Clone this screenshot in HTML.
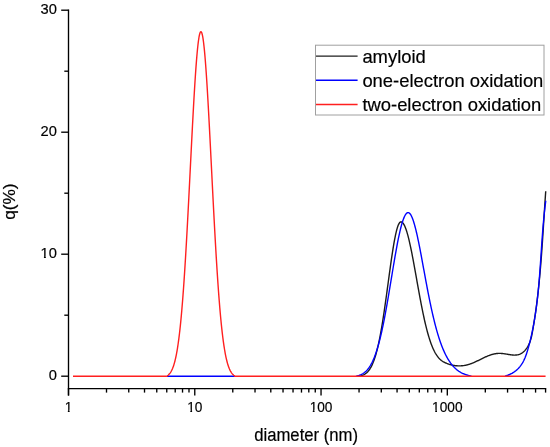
<!DOCTYPE html>
<html><head><meta charset="utf-8"><style>
html,body{margin:0;padding:0;background:#fff;}
svg{display:block;font-family:'Liberation Sans', Arial, sans-serif;}
text{stroke:#000;stroke-width:0.18px;}
</style></head><body>
<svg width="550" height="447" viewBox="0 0 550 447">
<rect width="550" height="447" fill="#fff"/>
<line x1="68.50" y1="9.52" x2="68.50" y2="395.60" stroke="#000" stroke-width="1.35"/>
<line x1="67.83" y1="388.60" x2="546.24" y2="388.60" stroke="#000" stroke-width="1.35"/>
<line x1="61.20" y1="376.20" x2="68.50" y2="376.20" stroke="#000" stroke-width="1.35"/>
<line x1="61.20" y1="254.20" x2="68.50" y2="254.20" stroke="#000" stroke-width="1.35"/>
<line x1="61.20" y1="132.20" x2="68.50" y2="132.20" stroke="#000" stroke-width="1.35"/>
<line x1="61.20" y1="10.20" x2="68.50" y2="10.20" stroke="#000" stroke-width="1.35"/>
<line x1="64.30" y1="315.20" x2="68.50" y2="315.20" stroke="#000" stroke-width="1.35"/>
<line x1="64.30" y1="193.20" x2="68.50" y2="193.20" stroke="#000" stroke-width="1.35"/>
<line x1="64.30" y1="71.20" x2="68.50" y2="71.20" stroke="#000" stroke-width="1.35"/>
<line x1="68.50" y1="388.60" x2="68.50" y2="395.60" stroke="#000" stroke-width="1.35"/>
<line x1="106.51" y1="388.60" x2="106.51" y2="392.60" stroke="#000" stroke-width="1.35"/>
<line x1="128.75" y1="388.60" x2="128.75" y2="392.60" stroke="#000" stroke-width="1.35"/>
<line x1="144.52" y1="388.60" x2="144.52" y2="392.60" stroke="#000" stroke-width="1.35"/>
<line x1="156.76" y1="388.60" x2="156.76" y2="392.60" stroke="#000" stroke-width="1.35"/>
<line x1="166.76" y1="388.60" x2="166.76" y2="392.60" stroke="#000" stroke-width="1.35"/>
<line x1="175.21" y1="388.60" x2="175.21" y2="392.60" stroke="#000" stroke-width="1.35"/>
<line x1="182.53" y1="388.60" x2="182.53" y2="392.60" stroke="#000" stroke-width="1.35"/>
<line x1="188.99" y1="388.60" x2="188.99" y2="392.60" stroke="#000" stroke-width="1.35"/>
<line x1="194.77" y1="388.60" x2="194.77" y2="395.60" stroke="#000" stroke-width="1.35"/>
<line x1="232.78" y1="388.60" x2="232.78" y2="392.60" stroke="#000" stroke-width="1.35"/>
<line x1="255.02" y1="388.60" x2="255.02" y2="392.60" stroke="#000" stroke-width="1.35"/>
<line x1="270.79" y1="388.60" x2="270.79" y2="392.60" stroke="#000" stroke-width="1.35"/>
<line x1="283.03" y1="388.60" x2="283.03" y2="392.60" stroke="#000" stroke-width="1.35"/>
<line x1="293.03" y1="388.60" x2="293.03" y2="392.60" stroke="#000" stroke-width="1.35"/>
<line x1="301.48" y1="388.60" x2="301.48" y2="392.60" stroke="#000" stroke-width="1.35"/>
<line x1="308.80" y1="388.60" x2="308.80" y2="392.60" stroke="#000" stroke-width="1.35"/>
<line x1="315.26" y1="388.60" x2="315.26" y2="392.60" stroke="#000" stroke-width="1.35"/>
<line x1="321.04" y1="388.60" x2="321.04" y2="395.60" stroke="#000" stroke-width="1.35"/>
<line x1="359.05" y1="388.60" x2="359.05" y2="392.60" stroke="#000" stroke-width="1.35"/>
<line x1="381.29" y1="388.60" x2="381.29" y2="392.60" stroke="#000" stroke-width="1.35"/>
<line x1="397.06" y1="388.60" x2="397.06" y2="392.60" stroke="#000" stroke-width="1.35"/>
<line x1="409.30" y1="388.60" x2="409.30" y2="392.60" stroke="#000" stroke-width="1.35"/>
<line x1="419.30" y1="388.60" x2="419.30" y2="392.60" stroke="#000" stroke-width="1.35"/>
<line x1="427.75" y1="388.60" x2="427.75" y2="392.60" stroke="#000" stroke-width="1.35"/>
<line x1="435.07" y1="388.60" x2="435.07" y2="392.60" stroke="#000" stroke-width="1.35"/>
<line x1="441.53" y1="388.60" x2="441.53" y2="392.60" stroke="#000" stroke-width="1.35"/>
<line x1="447.31" y1="388.60" x2="447.31" y2="395.60" stroke="#000" stroke-width="1.35"/>
<line x1="485.32" y1="388.60" x2="485.32" y2="392.60" stroke="#000" stroke-width="1.35"/>
<line x1="507.56" y1="388.60" x2="507.56" y2="392.60" stroke="#000" stroke-width="1.35"/>
<line x1="523.33" y1="388.60" x2="523.33" y2="392.60" stroke="#000" stroke-width="1.35"/>
<line x1="535.57" y1="388.60" x2="535.57" y2="392.60" stroke="#000" stroke-width="1.35"/>
<line x1="545.57" y1="388.60" x2="545.57" y2="392.60" stroke="#000" stroke-width="1.35"/>
<g transform="translate(56.9,380.20)"><text text-anchor="end" font-size="14.7">0</text></g>
<g transform="translate(56.9,258.20)"><text text-anchor="end" font-size="14.7">10</text><rect x="-16.49" y="-2.44" width="3.52" height="3.44" fill="#fff"/><rect x="-11.04" y="-2.44" width="3.12" height="3.44" fill="#fff"/></g>
<g transform="translate(56.9,136.20)"><text text-anchor="end" font-size="14.7">20</text></g>
<g transform="translate(56.9,14.20)"><text text-anchor="end" font-size="14.7">30</text></g>
<g transform="translate(68.50,412.2) scale(1,1.09)"><text text-anchor="middle" font-size="13.7">1</text><rect x="-3.94" y="-2.27" width="3.28" height="3.27" fill="#fff"/><rect x="1.14" y="-2.27" width="2.91" height="3.27" fill="#fff"/></g>
<g transform="translate(194.77,412.2) scale(1,1.09)"><text text-anchor="middle" font-size="13.7">10</text><rect x="-7.75" y="-2.27" width="3.28" height="3.27" fill="#fff"/><rect x="-2.67" y="-2.27" width="2.91" height="3.27" fill="#fff"/></g>
<g transform="translate(321.04,412.2) scale(1,1.09)"><text text-anchor="middle" font-size="13.7">100</text><rect x="-11.56" y="-2.27" width="3.28" height="3.27" fill="#fff"/><rect x="-6.48" y="-2.27" width="2.91" height="3.27" fill="#fff"/></g>
<g transform="translate(447.31,412.2) scale(1,1.09)"><text text-anchor="middle" font-size="13.7">1000</text><rect x="-15.37" y="-2.27" width="3.28" height="3.27" fill="#fff"/><rect x="-10.29" y="-2.27" width="2.91" height="3.27" fill="#fff"/></g>
<text transform="translate(306.1,441.3) scale(1,1.05)" text-anchor="middle" font-size="16.7">diameter (nm)</text>
<text transform="translate(15.2,201.6) rotate(-90) scale(1.04,1)" text-anchor="middle" font-size="16.6">q(%)</text>
<path d="M359.50,376.20 L360.00,376.13 L360.50,376.00 L361.00,375.86 L361.50,375.70 L362.00,375.53 L362.50,375.33 L363.00,375.12 L363.50,374.89 L364.00,374.63 L364.50,374.34 L365.00,374.03 L365.50,373.69 L366.00,373.31 L366.50,372.90 L367.00,372.44 L367.50,371.95 L368.00,371.41 L368.50,370.82 L369.00,370.19 L369.50,369.49 L370.00,368.74 L370.50,367.93 L371.00,367.06 L371.50,366.11 L372.00,365.10 L372.50,364.00 L373.00,362.83 L373.50,361.58 L374.00,360.24 L374.50,358.82 L375.00,357.30 L375.50,355.68 L376.00,353.97 L376.50,352.16 L377.00,350.25 L377.50,348.23 L378.00,346.11 L378.50,343.88 L379.00,341.54 L379.50,339.10 L380.00,336.55 L380.50,333.90 L381.00,331.14 L381.50,328.28 L382.00,325.32 L382.50,322.26 L383.00,319.11 L383.50,315.88 L384.00,312.56 L384.50,309.17 L385.00,305.71 L385.50,302.19 L386.00,298.61 L386.50,294.99 L387.00,291.34 L387.50,287.66 L388.00,283.97 L388.50,280.27 L389.00,276.58 L389.50,272.92 L390.00,269.28 L390.50,265.69 L391.00,262.16 L391.50,258.70 L392.00,255.33 L392.50,252.05 L393.00,248.88 L393.50,245.83 L394.00,242.92 L394.50,240.16 L395.00,237.55 L395.50,235.11 L396.00,232.86 L396.50,230.79 L397.00,228.92 L397.50,227.26 L398.00,225.81 L398.50,224.58 L399.00,223.58 L399.50,222.81 L400.00,222.27 L400.50,221.97 L401.00,221.89 L401.50,221.97 L402.00,222.20 L402.50,222.58 L403.00,223.11 L403.50,223.78 L404.00,224.60 L404.50,225.56 L405.00,226.66 L405.50,227.89 L406.00,229.25 L406.50,230.74 L407.00,232.35 L407.50,234.08 L408.00,235.92 L408.50,237.87 L409.00,239.91 L409.50,242.06 L410.00,244.29 L410.50,246.60 L411.00,248.99 L411.50,251.45 L412.00,253.98 L412.50,256.56 L413.00,259.19 L413.50,261.87 L414.00,264.58 L414.50,267.32 L415.00,270.09 L415.50,272.88 L416.00,275.67 L416.50,278.48 L417.00,281.28 L417.50,284.08 L418.00,286.86 L418.50,289.63 L419.00,292.37 L419.50,295.09 L420.00,297.78 L420.50,300.44 L421.00,303.06 L421.50,305.64 L422.00,308.17 L422.50,310.65 L423.00,313.08 L423.50,315.46 L424.00,317.77 L424.50,320.03 L425.00,322.22 L425.50,324.35 L426.00,326.42 L426.50,328.42 L427.00,330.35 L427.50,332.22 L428.00,334.02 L428.50,335.75 L429.00,337.42 L429.50,339.02 L430.00,340.55 L430.50,342.02 L431.00,343.43 L431.50,344.77 L432.00,346.05 L432.50,347.26 L433.00,348.42 L433.50,349.52 L434.00,350.56 L434.50,351.55 L435.00,352.48 L435.50,353.36 L436.00,354.19 L436.50,354.97 L437.00,355.71 L437.50,356.40 L438.00,357.05 L438.50,357.65 L439.00,358.22 L439.50,358.75 L440.00,359.25 L440.50,359.71 L441.00,360.14 L441.50,360.54 L442.00,360.91 L442.50,361.25 L443.00,361.57 L443.50,361.87 L444.00,362.14 L444.04,362.03 L444.50,362.29 L444.96,362.53 L445.43,362.77 L445.90,363.00 L446.38,363.22 L446.86,363.43 L447.35,363.63 L447.84,363.82 L448.33,364.01 L448.83,364.19 L449.33,364.35 L449.83,364.51 L450.34,364.66 L450.85,364.80 L451.36,364.94 L451.88,365.06 L452.40,365.17 L452.92,365.28 L453.44,365.38 L453.96,365.47 L454.49,365.55 L455.02,365.62 L455.55,365.68 L456.08,365.74 L456.61,365.78 L457.14,365.82 L457.67,365.85 L458.21,365.87 L458.74,365.88 L459.28,365.88 L459.81,365.87 L460.35,365.86 L460.88,365.83 L461.42,365.80 L461.95,365.76 L462.48,365.71 L463.02,365.65 L463.55,365.58 L464.08,365.51 L464.60,365.42 L465.13,365.33 L465.66,365.23 L466.18,365.12 L466.70,365.00 L467.22,364.87 L467.74,364.73 L468.25,364.59 L468.76,364.44 L469.27,364.28 L469.78,364.11 L470.29,363.94 L470.79,363.76 L471.30,363.57 L471.80,363.38 L472.30,363.18 L472.80,362.98 L473.29,362.77 L473.79,362.56 L474.28,362.35 L474.78,362.13 L475.27,361.91 L475.76,361.68 L476.25,361.45 L476.74,361.22 L477.23,360.98 L477.72,360.75 L478.21,360.51 L478.69,360.27 L479.18,360.03 L479.67,359.79 L480.15,359.55 L480.64,359.31 L481.12,359.07 L481.61,358.83 L482.10,358.59 L482.58,358.35 L483.07,358.12 L483.56,357.88 L484.04,357.65 L484.53,357.42 L485.02,357.20 L485.51,356.97 L486.00,356.75 L486.49,356.54 L486.98,356.33 L487.47,356.12 L487.96,355.92 L488.45,355.72 L488.95,355.53 L489.45,355.35 L489.94,355.17 L490.44,354.99 L490.94,354.83 L491.44,354.67 L491.95,354.52 L492.45,354.37 L492.96,354.24 L493.47,354.11 L493.98,353.99 L494.49,353.88 L495.01,353.78 L495.52,353.69 L496.04,353.61 L496.56,353.54 L497.09,353.48 L497.61,353.43 L498.14,353.40 L498.67,353.37 L499.21,353.36 L499.75,353.36 L500.29,353.37 L500.83,353.39 L501.37,353.43 L501.92,353.47 L502.47,353.53 L503.02,353.59 L503.58,353.66 L504.13,353.74 L504.68,353.82 L505.24,353.90 L505.80,353.99 L506.35,354.09 L506.91,354.18 L507.46,354.27 L508.02,354.37 L508.57,354.46 L509.12,354.55 L509.68,354.64 L510.22,354.72 L510.77,354.79 L511.32,354.86 L511.86,354.93 L512.40,354.98 L512.94,355.02 L513.47,355.06 L514.00,355.08 L514.52,355.09 L515.04,355.09 L515.56,355.07 L516.07,355.04 L516.58,354.99 L517.08,354.92 L517.58,354.83 L518.07,354.73 L518.56,354.61 L519.03,354.46 L519.51,354.29 L519.97,354.10 L520.43,353.89 L520.88,353.66 L521.32,353.40 L521.76,353.13 L522.19,352.84 L522.61,352.54 L523.02,352.21 L523.42,351.87 L523.82,351.52 L524.21,351.15 L524.59,350.77 L524.96,350.37 L525.32,349.96 L525.67,349.54 L526.01,349.11 L526.35,348.67 L526.67,348.23 L526.98,347.77 L527.29,347.31 L527.58,346.84 L527.87,346.36 L528.14,345.88 L528.40,345.39 L528.65,344.91 L528.89,344.41 L529.12,343.92 L529.34,343.42 L529.55,342.92 L529.75,342.42 L529.95,341.92 L530.13,341.41 L530.30,340.90 L530.47,340.39 L530.63,339.88 L530.78,339.37 L530.93,338.85 L531.07,338.33 L531.20,337.81 L531.33,337.29 L531.45,336.77 L531.57,336.25 L531.69,335.73 L531.80,335.20 L531.90,334.68 L532.01,334.15 L532.11,333.63 L532.21,333.10 L532.30,332.57 L532.40,332.04 L532.49,331.51 L532.58,330.99 L532.68,330.46 L532.77,329.93 L532.86,329.40 L532.95,328.87 L533.04,328.34 L533.13,327.81 L533.22,327.29 L533.31,326.76 L533.40,326.23 L533.48,325.70 L533.57,325.17 L533.66,324.64 L533.74,324.11 L533.83,323.58 L533.91,323.06 L534.00,322.53 L534.08,322.00 L534.17,321.47 L534.25,320.94 L534.33,320.41 L534.42,319.88 L534.50,319.35 L534.58,318.82 L534.66,318.29 L534.74,317.76 L534.82,317.24 L534.90,316.71 L534.98,316.18 L535.06,315.65 L535.14,315.12 L535.21,314.59 L535.29,314.06 L535.37,313.53 L535.44,313.00 L535.52,312.47 L535.60,311.94 L535.67,311.41 L535.75,310.88 L535.82,310.35 L535.89,309.82 L535.97,309.29 L536.04,308.76 L536.11,308.23 L536.18,307.70 L536.25,307.17 L536.33,306.64 L536.40,306.11 L536.47,305.58 L536.54,305.05 L536.61,304.52 L536.67,303.99 L536.74,303.45 L536.81,302.92 L536.88,302.39 L536.95,301.86 L537.01,301.33 L537.08,300.80 L537.14,300.27 L537.21,299.74 L537.28,299.21 L537.34,298.68 L537.40,298.14 L537.47,297.61 L537.53,297.08 L537.59,296.55 L537.66,296.02 L537.72,295.49 L537.78,294.95 L537.84,294.42 L537.90,293.89 L537.96,293.36 L538.02,292.83 L538.08,292.30 L538.14,291.76 L538.20,291.23 L538.26,290.70 L538.32,290.17 L538.38,289.63 L538.44,289.10 L538.49,288.57 L538.55,288.04 L538.61,287.50 L538.66,286.97 L538.72,286.44 L538.77,285.91 L538.83,285.37 L538.88,284.84 L538.94,284.31 L538.99,283.78 L539.05,283.24 L539.10,282.71 L539.15,282.18 L539.20,281.64 L539.26,281.11 L539.31,280.58 L539.36,280.04 L539.41,279.51 L539.46,278.98 L539.51,278.44 L539.57,277.91 L539.62,277.38 L539.67,276.84 L539.72,276.31 L539.76,275.78 L539.81,275.24 L539.86,274.71 L539.91,274.18 L539.96,273.64 L540.01,273.11 L540.05,272.57 L540.10,272.04 L540.15,271.51 L540.20,270.97 L540.24,270.44 L540.29,269.90 L540.33,269.37 L540.38,268.84 L540.43,268.30 L540.47,267.77 L540.52,267.23 L540.56,266.70 L540.61,266.17 L540.65,265.63 L540.69,265.10 L540.74,264.56 L540.78,264.03 L540.82,263.49 L540.87,262.96 L540.91,262.43 L540.95,261.89 L541.00,261.36 L541.04,260.82 L541.08,260.29 L541.12,259.75 L541.16,259.22 L541.20,258.68 L541.25,258.15 L541.29,257.61 L541.33,257.08 L541.37,256.55 L541.41,256.01 L541.45,255.48 L541.49,254.94 L541.53,254.41 L541.57,253.87 L541.61,253.34 L541.65,252.80 L541.69,252.27 L541.73,251.73 L541.76,251.20 L541.80,250.66 L541.84,250.13 L541.88,249.59 L541.92,249.06 L541.96,248.52 L541.99,247.99 L542.03,247.45 L542.07,246.92 L542.11,246.38 L542.14,245.85 L542.18,245.31 L542.22,244.78 L542.25,244.24 L542.29,243.71 L542.33,243.17 L542.36,242.64 L542.40,242.10 L542.44,241.57 L542.47,241.03 L542.51,240.50 L542.54,239.96 L542.58,239.43 L542.62,238.89 L542.65,238.36 L542.69,237.82 L542.72,237.29 L542.76,236.75 L542.79,236.22 L542.83,235.68 L542.86,235.15 L542.90,234.61 L542.93,234.07 L542.97,233.54 L543.00,233.00 L543.04,232.47 L543.07,231.93 L543.11,231.40 L543.14,230.86 L543.18,230.33 L543.21,229.79 L543.24,229.26 L543.28,228.72 L543.31,228.19 L543.35,227.65 L543.38,227.12 L543.42,226.58 L543.45,226.05 L543.48,225.51 L543.52,224.98 L543.55,224.44 L543.59,223.91 L543.62,223.37 L543.65,222.84 L543.69,222.30 L543.72,221.77 L543.76,221.23 L543.79,220.70 L543.82,220.16 L543.86,219.63 L543.89,219.09 L543.92,218.56 L543.96,218.02 L543.99,217.49 L544.03,216.95 L544.06,216.42 L544.09,215.88 L544.13,215.35 L544.16,214.81 L544.20,214.28 L544.23,213.74 L544.26,213.21 L544.30,212.67 L544.33,212.14 L544.37,211.60 L544.40,211.07 L544.43,210.53 L544.47,210.00 L544.50,209.47 L544.54,208.93 L544.57,208.40 L544.61,207.86 L544.64,207.33 L544.68,206.79 L544.71,206.26 L544.75,205.72 L544.78,205.19 L544.82,204.65 L544.85,204.12 L544.89,203.59 L544.92,203.05 L544.96,202.52 L544.99,201.98 L545.03,201.45 L545.06,200.91 L545.10,200.38 L545.13,199.85 L545.17,199.31 L545.21,198.78 L545.24,198.24 L545.28,197.71 L545.31,197.18 L545.35,196.64 L545.39,196.11 L545.42,195.57 L545.46,195.04 L545.50,194.51 L545.53,193.97 L545.57,193.44 L545.61,192.91 L545.65,192.37 L545.68,191.84 L545.72,191.31" fill="none" stroke="#1a1a1a" stroke-width="1.4" stroke-linejoin="round"/>
<path d="M356.00,376.20 L356.50,376.09 L357.00,375.98 L357.50,375.85 L358.00,375.71 L358.50,375.56 L359.00,375.40 L359.50,375.22 L360.00,375.03 L360.50,374.82 L361.00,374.60 L361.50,374.35 L362.00,374.09 L362.50,373.81 L363.00,373.51 L363.50,373.18 L364.00,372.83 L364.50,372.45 L365.00,372.05 L365.50,371.61 L366.00,371.15 L366.50,370.65 L367.00,370.12 L367.50,369.56 L368.00,368.96 L368.50,368.31 L369.00,367.63 L369.50,366.90 L370.00,366.13 L370.50,365.32 L371.00,364.45 L371.50,363.53 L372.00,362.57 L372.50,361.55 L373.00,360.47 L373.50,359.34 L374.00,358.15 L374.50,356.90 L375.00,355.58 L375.50,354.21 L376.00,352.77 L376.50,351.26 L377.00,349.69 L377.50,348.06 L378.00,346.35 L378.50,344.57 L379.00,342.73 L379.50,340.82 L380.00,338.84 L380.50,336.79 L381.00,334.67 L381.50,332.48 L382.00,330.23 L382.50,327.91 L383.00,325.52 L383.50,323.07 L384.00,320.56 L384.50,318.00 L385.00,315.37 L385.50,312.69 L386.00,309.96 L386.50,307.18 L387.00,304.35 L387.50,301.48 L388.00,298.58 L388.50,295.64 L389.00,292.67 L389.50,289.68 L390.00,286.67 L390.50,283.65 L391.00,280.61 L391.50,277.58 L392.00,274.54 L392.50,271.51 L393.00,268.50 L393.50,265.50 L394.00,262.53 L394.50,259.59 L395.00,256.69 L395.50,253.84 L396.00,251.03 L396.50,248.28 L397.00,245.59 L397.50,242.97 L398.00,240.43 L398.50,237.96 L399.00,235.59 L399.50,233.30 L400.00,231.11 L400.50,229.02 L401.00,227.04 L401.50,225.17 L402.00,223.41 L402.50,221.77 L403.00,220.26 L403.50,218.87 L404.00,217.62 L404.50,216.49 L405.00,215.50 L405.50,214.64 L406.00,213.93 L406.50,213.36 L407.00,212.95 L407.50,212.69 L408.00,212.60 L408.50,212.65 L409.00,212.87 L409.50,213.23 L410.00,213.75 L410.50,214.42 L411.00,215.23 L411.50,216.18 L412.00,217.27 L412.50,218.50 L413.00,219.85 L413.50,221.33 L414.00,222.92 L414.50,224.63 L415.00,226.45 L415.50,228.37 L416.00,230.39 L416.50,232.50 L417.00,234.69 L417.50,236.95 L418.00,239.29 L418.50,241.70 L419.00,244.16 L419.50,246.68 L420.00,249.24 L420.50,251.85 L421.00,254.49 L421.50,257.16 L422.00,259.85 L422.50,262.56 L423.00,265.28 L423.50,268.01 L424.00,270.74 L424.50,273.46 L425.00,276.18 L425.50,278.88 L426.00,281.57 L426.50,284.24 L427.00,286.88 L427.50,289.50 L428.00,292.08 L428.50,294.63 L429.00,297.15 L429.50,299.63 L430.00,302.07 L430.50,304.47 L431.00,306.82 L431.50,309.13 L432.00,311.39 L432.50,313.61 L433.00,315.78 L433.50,317.89 L434.00,319.96 L434.50,321.99 L435.00,323.96 L435.50,325.88 L436.00,327.75 L436.50,329.57 L437.00,331.34 L437.50,333.07 L438.00,334.74 L438.50,336.37 L439.00,337.95 L439.50,339.48 L440.00,340.96 L440.50,342.40 L441.00,343.80 L441.50,345.15 L442.00,346.46 L442.50,347.73 L443.00,348.95 L443.50,350.14 L444.00,351.28 L444.50,352.39 L445.00,353.45 L445.50,354.48 L446.00,355.48 L446.50,356.44 L447.00,357.36 L447.50,358.25 L448.00,359.11 L448.50,359.93 L449.00,360.73 L449.50,361.49 L450.00,362.22 L450.50,362.93 L451.00,363.60 L451.50,364.25 L452.00,364.88 L452.50,365.47 L453.00,366.05 L453.50,366.60 L454.00,367.12 L454.50,367.63 L455.00,368.11 L455.50,368.58 L456.00,369.02 L456.50,369.45 L457.00,369.85 L457.50,370.24 L458.00,370.61 L458.50,370.97 L459.00,371.31 L459.50,371.63 L460.00,371.94 L460.50,372.24 L461.00,372.52 L461.50,372.78 L462.00,373.04 L462.50,373.28 L463.00,373.52 L463.50,373.74 L464.00,373.95 L464.50,374.15 L465.00,374.34 L465.50,374.53 L466.00,374.70 L466.50,374.87 L467.00,375.03 L467.50,375.18 L468.00,375.33 L468.50,375.47 L469.00,375.60 L469.50,375.73 L470.00,375.86 L470.50,375.98 L471.00,376.09 L471.50,376.20" fill="none" stroke="#0000ff" stroke-width="1.4" stroke-linejoin="round"/>
<path d="M505.07,376.20 L505.74,375.89 L506.41,375.70 L507.06,375.48 L507.70,375.26 L508.34,375.02 L508.96,374.77 L509.57,374.51 L510.17,374.24 L510.76,373.95 L511.34,373.65 L511.91,373.35 L512.46,373.03 L513.01,372.70 L513.55,372.36 L514.07,372.01 L514.59,371.65 L515.09,371.28 L515.59,370.90 L516.07,370.51 L516.54,370.11 L517.00,369.70 L517.46,369.28 L517.90,368.86 L518.33,368.42 L518.74,367.98 L519.15,367.53 L519.55,367.07 L519.94,366.60 L520.31,366.12 L520.68,365.64 L521.03,365.15 L521.38,364.65 L521.71,364.15 L522.04,363.64 L522.36,363.12 L522.66,362.60 L522.96,362.07 L523.25,361.54 L523.53,361.00 L523.81,360.45 L524.07,359.90 L524.33,359.35 L524.58,358.79 L524.83,358.22 L525.07,357.66 L525.30,357.08 L525.52,356.51 L525.74,355.93 L525.96,355.35 L526.17,354.76 L526.37,354.17 L526.57,353.58 L526.77,352.99 L526.96,352.39 L527.15,351.80 L527.33,351.20 L527.51,350.60 L527.69,350.00 L527.87,349.39 L528.04,348.79 L528.21,348.18 L528.38,347.58 L528.55,346.97 L528.71,346.37 L528.87,345.76 L529.04,345.16 L529.20,344.55 L529.36,343.95 L529.51,343.34 L529.67,342.73 L529.82,342.13 L529.98,341.52 L530.13,340.91 L530.28,340.30 L530.42,339.70 L530.57,339.09 L530.72,338.48 L530.86,337.87 L531.00,337.26 L531.14,336.65 L531.28,336.04 L531.42,335.44 L531.55,334.83 L531.69,334.22 L531.82,333.61 L531.95,333.00 L532.08,332.39 L532.21,331.78 L532.34,331.17 L532.47,330.56 L532.59,329.94 L532.72,329.33 L532.84,328.72 L532.96,328.11 L533.08,327.50 L533.20,326.89 L533.31,326.27 L533.43,325.66 L533.54,325.05 L533.66,324.44 L533.77,323.82 L533.88,323.21 L533.99,322.60 L534.10,321.99 L534.21,321.37 L534.31,320.76 L534.42,320.14 L534.52,319.53 L534.62,318.92 L534.72,318.30 L534.82,317.69 L534.92,317.07 L535.02,316.46 L535.12,315.84 L535.21,315.23 L535.31,314.61 L535.40,314.00 L535.49,313.38 L535.59,312.77 L535.68,312.15 L535.77,311.54 L535.85,310.92 L535.94,310.30 L536.03,309.69 L536.11,309.07 L536.20,308.45 L536.28,307.84 L536.36,307.22 L536.45,306.60 L536.53,305.99 L536.61,305.37 L536.68,304.75 L536.76,304.13 L536.84,303.52 L536.92,302.90 L536.99,302.28 L537.07,301.66 L537.14,301.05 L537.21,300.43 L537.28,299.81 L537.36,299.19 L537.43,298.57 L537.50,297.95 L537.56,297.33 L537.63,296.72 L537.70,296.10 L537.77,295.48 L537.83,294.86 L537.90,294.24 L537.96,293.62 L538.02,293.00 L538.09,292.38 L538.15,291.76 L538.21,291.14 L538.27,290.52 L538.33,289.90 L538.39,289.28 L538.45,288.66 L538.51,288.04 L538.57,287.42 L538.63,286.80 L538.68,286.18 L538.74,285.56 L538.79,284.94 L538.85,284.32 L538.90,283.70 L538.96,283.08 L539.01,282.46 L539.06,281.84 L539.12,281.22 L539.17,280.59 L539.22,279.97 L539.27,279.35 L539.32,278.73 L539.37,278.11 L539.42,277.49 L539.47,276.87 L539.52,276.25 L539.57,275.62 L539.61,275.00 L539.66,274.38 L539.71,273.76 L539.76,273.14 L539.80,272.52 L539.85,271.89 L539.90,271.27 L539.94,270.65 L539.99,270.03 L540.03,269.41 L540.08,268.78 L540.12,268.16 L540.17,267.54 L540.21,266.92 L540.25,266.30 L540.30,265.67 L540.34,265.05 L540.38,264.43 L540.43,263.81 L540.47,263.19 L540.51,262.56 L540.55,261.94 L540.60,261.32 L540.64,260.70 L540.68,260.07 L540.72,259.45 L540.77,258.83 L540.81,258.21 L540.85,257.58 L540.89,256.96 L540.93,256.34 L540.97,255.72 L541.02,255.10 L541.06,254.47 L541.10,253.85 L541.14,253.23 L541.18,252.61 L541.22,251.98 L541.26,251.36 L541.31,250.74 L541.35,250.12 L541.39,249.49 L541.43,248.87 L541.47,248.25 L541.51,247.63 L541.56,247.01 L541.60,246.38 L541.64,245.76 L541.68,245.14 L541.73,244.52 L541.77,243.89 L541.81,243.27 L541.85,242.65 L541.90,242.03 L541.94,241.41 L541.98,240.78 L542.03,240.16 L542.07,239.54 L542.12,238.92 L542.16,238.30 L542.21,237.68 L542.25,237.05 L542.30,236.43 L542.34,235.81 L542.39,235.19 L542.44,234.57 L542.48,233.95 L542.53,233.32 L542.58,232.70 L542.62,232.08 L542.67,231.46 L542.72,230.84 L542.77,230.22 L542.82,229.60 L542.87,228.98 L542.92,228.36 L542.97,227.73 L543.02,227.11 L543.07,226.49 L543.13,225.87 L543.18,225.25 L543.23,224.63 L543.28,224.01 L543.34,223.39 L543.39,222.77 L543.45,222.15 L543.50,221.53 L543.56,220.91 L543.62,220.29 L543.67,219.67 L543.73,219.05 L543.79,218.43 L543.85,217.81 L543.91,217.19 L543.97,216.57 L544.03,215.95 L544.09,215.33 L544.16,214.72 L544.22,214.10 L544.28,213.48 L544.35,212.86 L544.41,212.24 L544.48,211.62 L544.55,211.00 L544.61,210.38 L544.68,209.77 L544.75,209.15 L544.82,208.53 L544.89,207.91 L544.96,207.29 L545.03,206.68 L545.11,206.06 L545.18,205.44 L545.26,204.82 L545.33,204.21 L545.41,203.59 L545.49,202.97 L545.56,202.36 L545.64,201.74 L545.72,201.12 L545.60,201.10" fill="none" stroke="#0000ff" stroke-width="1.4" stroke-linejoin="round"/>
<line x1="166.95" y1="376.20" x2="234.85" y2="376.20" stroke="#0000ff" stroke-width="1.4"/>
<path d="M73.00,376.20 L166.65,376.20 L166.75,376.14 L167.00,375.99 L167.25,375.83 L167.50,375.66 L167.75,375.48 L168.00,375.28 L168.25,375.07 L168.50,374.85 L168.75,374.61 L169.00,374.36 L169.25,374.09 L169.50,373.80 L169.75,373.49 L170.00,373.17 L170.25,372.82 L170.50,372.45 L170.75,372.06 L171.00,371.65 L171.25,371.21 L171.50,370.75 L171.75,370.25 L172.00,369.73 L172.25,369.18 L172.50,368.60 L172.75,367.98 L173.00,367.33 L173.25,366.65 L173.50,365.93 L173.75,365.17 L174.00,364.37 L174.25,363.52 L174.50,362.64 L174.75,361.71 L175.00,360.73 L175.25,359.70 L175.50,358.63 L175.75,357.50 L176.00,356.32 L176.25,355.09 L176.50,353.79 L176.75,352.44 L177.00,351.03 L177.25,349.56 L177.50,348.02 L177.75,346.42 L178.00,344.76 L178.25,343.02 L178.50,341.21 L178.75,339.33 L179.00,337.38 L179.25,335.36 L179.50,333.25 L179.75,331.08 L180.00,328.82 L180.25,326.48 L180.50,324.06 L180.75,321.56 L181.00,318.98 L181.25,316.31 L181.50,313.56 L181.75,310.72 L182.00,307.80 L182.25,304.80 L182.50,301.70 L182.75,298.52 L183.00,295.25 L183.25,291.90 L183.50,288.46 L183.75,284.94 L184.00,281.33 L184.25,277.64 L184.50,273.87 L184.75,270.01 L185.00,266.07 L185.25,262.06 L185.50,257.97 L185.75,253.80 L186.00,249.56 L186.25,245.25 L186.50,240.87 L186.75,236.43 L187.00,231.92 L187.25,227.36 L187.50,222.74 L187.75,218.06 L188.00,213.34 L188.25,208.58 L188.50,203.77 L188.75,198.92 L189.00,194.05 L189.25,189.15 L189.50,184.22 L189.75,179.28 L190.00,174.32 L190.25,169.36 L190.50,164.40 L190.75,159.44 L191.00,154.49 L191.25,149.56 L191.50,144.64 L191.75,139.76 L192.00,134.91 L192.25,130.09 L192.50,125.33 L192.75,120.62 L193.00,115.96 L193.25,111.37 L193.50,106.85 L193.75,102.41 L194.00,98.05 L194.25,93.78 L194.50,89.61 L194.75,85.54 L195.00,81.57 L195.25,77.73 L195.50,74.00 L195.75,70.39 L196.00,66.92 L196.25,63.59 L196.50,60.39 L196.75,57.34 L197.00,54.45 L197.25,51.71 L197.50,49.13 L197.75,46.72 L198.00,44.47 L198.25,42.40 L198.50,40.50 L198.75,38.78 L199.00,37.24 L199.25,35.89 L199.50,34.72 L199.75,33.74 L200.00,32.95 L200.25,32.35 L200.50,31.95 L200.75,31.73 L201.00,31.72 L201.25,31.89 L201.50,32.26 L201.75,32.82 L202.00,33.57 L202.25,34.51 L202.50,35.64 L202.75,36.95 L203.00,38.46 L203.25,40.14 L203.50,42.00 L203.75,44.04 L204.00,46.25 L204.25,48.63 L204.50,51.18 L204.75,53.89 L205.00,56.75 L205.25,59.77 L205.50,62.94 L205.75,66.24 L206.00,69.69 L206.25,73.27 L206.50,76.97 L206.75,80.79 L207.00,84.74 L207.25,88.78 L207.50,92.94 L207.75,97.19 L208.00,101.53 L208.25,105.95 L208.50,110.46 L208.75,115.04 L209.00,119.68 L209.25,124.38 L209.50,129.14 L209.75,133.94 L210.00,138.79 L210.25,143.66 L210.50,148.57 L210.75,153.50 L211.00,158.45 L211.25,163.41 L211.50,168.37 L211.75,173.33 L212.00,178.29 L212.25,183.23 L212.50,188.16 L212.75,193.07 L213.00,197.95 L213.25,202.80 L213.50,207.62 L213.75,212.39 L214.00,217.12 L214.25,221.81 L214.50,226.44 L214.75,231.02 L215.00,235.53 L215.25,239.99 L215.50,244.38 L215.75,248.70 L216.00,252.96 L216.25,257.14 L216.50,261.25 L216.75,265.28 L217.00,269.23 L217.25,273.10 L217.50,276.89 L217.75,280.60 L218.00,284.23 L218.25,287.77 L218.50,291.22 L218.75,294.59 L219.00,297.87 L219.25,301.07 L219.50,304.18 L219.75,307.21 L220.00,310.15 L220.25,313.00 L220.50,315.77 L220.75,318.45 L221.00,321.05 L221.25,323.57 L221.50,326.00 L221.75,328.36 L222.00,330.63 L222.25,332.83 L222.50,334.94 L222.75,336.98 L223.00,338.95 L223.25,340.84 L223.50,342.66 L223.75,344.41 L224.00,346.10 L224.25,347.71 L224.50,349.26 L224.75,350.74 L225.00,352.17 L225.25,353.53 L225.50,354.83 L225.75,356.08 L226.00,357.27 L226.25,358.41 L226.50,359.49 L226.75,360.53 L227.00,361.52 L227.25,362.46 L227.50,363.35 L227.75,364.20 L228.00,365.01 L228.25,365.78 L228.50,366.51 L228.75,367.20 L229.00,367.86 L229.25,368.48 L229.50,369.07 L229.75,369.62 L230.00,370.15 L230.25,370.65 L230.50,371.12 L230.75,371.56 L231.00,371.98 L231.25,372.38 L231.50,372.75 L231.75,373.10 L232.00,373.43 L232.25,373.74 L232.50,374.03 L232.75,374.31 L233.00,374.56 L233.25,374.80 L233.50,375.03 L233.75,375.24 L234.00,375.44 L234.25,375.63 L234.50,375.80 L234.75,375.96 L235.00,376.11 L235.15,376.20 L545.57,376.20" fill="none" stroke="#ff1f1f" stroke-width="1.4" stroke-linejoin="round"/>
<rect x="315.5" y="45.2" width="228.5" height="69.8" fill="none" stroke="#a0a0a0" stroke-width="1"/>
<line x1="316.00" y1="56.10" x2="357.60" y2="56.10" stroke="#1e1e1e" stroke-width="1.4"/>
<text x="362.4" y="62.90" font-size="18.4">amyloid</text>
<line x1="316.00" y1="80.30" x2="357.60" y2="80.30" stroke="#0000ff" stroke-width="1.4"/>
<text x="362.4" y="86.90" font-size="18.4">one-electron oxidation</text>
<line x1="316.00" y1="104.50" x2="357.60" y2="104.50" stroke="#ff1f1f" stroke-width="1.4"/>
<text x="362.4" y="110.90" font-size="18.4">two-electron oxidation</text>
</svg>
</body></html>
